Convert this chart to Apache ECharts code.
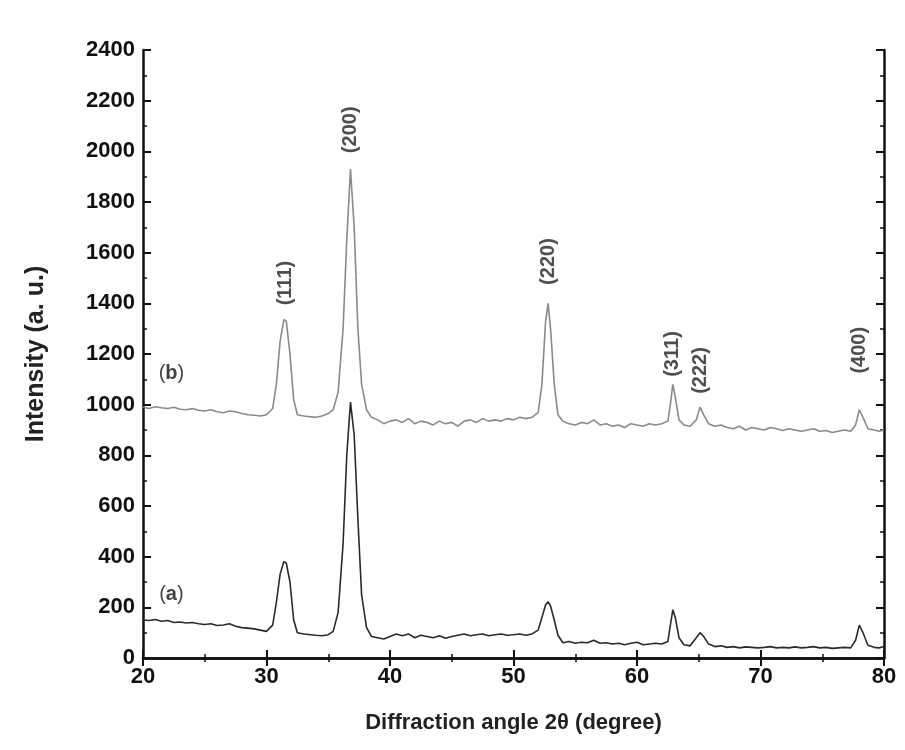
<!DOCTYPE html>
<html><head><meta charset="utf-8">
<script src="https://cdn.jsdelivr.net/npm/echarts@6/dist/echarts.min.js"></script>
<style>html,body{margin:0;background:#fff}#c{width:905px;height:750px}</style>
</head><body><div id="c"></div>
<script>
// pattern (b): [2theta, intensity]
var seriesB = [[20,990],[20.5,985],[21,992],[21.5,988],[22,985],[22.5,990],[23,982],[23.5,980],[24,985],[24.5,978],[25,975],[25.5,980],[26,972],[26.5,968],[27,975],[27.5,972],[28,965],[28.5,960],[29,958],[29.5,955],[30,960],[30.5,985],[30.8,1080],[31.1,1250],[31.4,1335],[31.6,1330],[31.9,1200],[32.2,1020],[32.5,960],[33,955],[34,950],[34.5,955],[35,965],[35.4,980],[35.8,1050],[36.2,1300],[36.5,1650],[36.8,1930],[37.1,1700],[37.4,1300],[37.7,1080],[38.1,980],[38.5,950],[39,940],[39.5,925],[40,935],[40.5,940],[41,930],[41.5,945],[42,925],[42.5,935],[43,930],[43.5,920],[44,935],[44.5,925],[45,930],[45.5,915],[46,935],[46.5,940],[47,930],[47.5,945],[48,935],[48.5,940],[49,935],[49.5,945],[50,940],[50.5,950],[51,945],[51.5,950],[52,970],[52.3,1080],[52.6,1330],[52.8,1400],[53,1300],[53.3,1080],[53.6,960],[54,935],[54.5,925],[55,920],[55.5,930],[56,925],[56.5,940],[57,920],[57.5,925],[58,915],[58.5,920],[59,910],[59.5,925],[60,920],[60.5,915],[61,925],[61.5,920],[62,925],[62.5,935],[62.7,1000],[62.9,1080],[63.1,1030],[63.4,940],[63.8,920],[64.3,915],[64.8,940],[65.1,990],[65.4,960],[65.8,925],[66.3,915],[66.8,920],[67.3,910],[67.8,905],[68.3,915],[68.8,900],[69.3,910],[69.8,905],[70.3,900],[70.8,910],[71.3,905],[71.8,898],[72.3,905],[72.8,900],[73.3,895],[73.8,900],[74.3,905],[74.8,895],[75.3,898],[75.8,890],[76.3,895],[76.8,900],[77.3,895],[77.7,920],[78,980],[78.3,950],[78.7,905],[79.2,900],[79.6,895],[80,900]];
// pattern (a)
var seriesA = [[20,150],[20.5,148],[21,152],[21.5,145],[22,148],[22.5,140],[23,142],[23.5,138],[24,140],[24.5,135],[25,132],[25.5,135],[26,128],[26.5,130],[27,135],[27.5,125],[28,120],[28.5,118],[29,115],[29.5,110],[30,105],[30.5,130],[30.8,220],[31.1,330],[31.4,380],[31.6,375],[31.9,300],[32.2,150],[32.5,100],[33,95],[34,90],[34.5,88],[35,92],[35.4,105],[35.8,180],[36.2,450],[36.5,800],[36.8,1010],[37.1,880],[37.4,550],[37.7,250],[38.1,120],[38.5,85],[39,80],[39.5,75],[40,85],[40.5,95],[41,88],[41.5,95],[42,80],[42.5,90],[43,85],[43.5,80],[44,88],[44.5,78],[45,85],[45.5,90],[46,95],[46.5,88],[47,92],[47.5,95],[48,88],[48.5,92],[49,95],[49.5,90],[50,92],[50.5,95],[51,90],[51.5,95],[52,110],[52.3,160],[52.6,210],[52.8,222],[53,205],[53.3,150],[53.6,90],[54,60],[54.5,65],[55,58],[55.5,62],[56,60],[56.5,70],[57,58],[57.5,60],[58,55],[58.5,58],[59,52],[59.5,58],[60,62],[60.5,52],[61,55],[61.5,58],[62,55],[62.5,65],[62.7,130],[62.9,190],[63.1,160],[63.4,80],[63.8,52],[64.3,48],[64.8,80],[65.1,100],[65.4,85],[65.8,55],[66.3,45],[66.8,48],[67.3,42],[67.8,45],[68.3,40],[68.8,44],[69.3,42],[69.8,40],[70.3,42],[70.8,45],[71.3,40],[71.8,42],[72.3,40],[72.8,44],[73.3,40],[73.8,42],[74.3,45],[74.8,40],[75.3,42],[75.8,38],[76.3,40],[76.8,42],[77.3,40],[77.7,70],[78,130],[78.3,100],[78.7,50],[79.2,42],[79.6,40],[80,45]];
// peak index labels: [x, y, text]
var peakLabels = [[31.5,1480,'(111)'],[36.8,2085,'(200)'],[52.8,1565,'(220)'],[62.9,1200,'(311)'],[65.1,1135,'(222)'],[78,1215,'(400)']];
var curveLabels = [[22.3,1125,'b'],[22.3,250,'a']];

var chart = echarts.init(document.getElementById('c'));
var font = 'Liberation Sans';
var axisCommon = {
    axisLine: {lineStyle: {color: '#111', width: 2.5}},
    axisTick: {inside: true, length: 8, lineStyle: {width: 2}},
    minorTick: {show: true, length: 4, splitNumber: 2, lineStyle: {color: '#111', width: 1.5}},
    splitLine: {show: false},
    axisLabel: {color: '#111', fontSize: 22, fontWeight: 'bold', fontFamily: font, formatter: function (v) { return String(v); }}
};
chart.setOption({
    animation: false,
    grid: {left: 143, right: 21, top: 50, bottom: 92},
    xAxis: [Object.assign({type: 'value', min: 20, max: 80, interval: 10,
        name: 'Diffraction angle 2θ (degree)', nameLocation: 'middle', nameGap: 54,
        nameTextStyle: {fontSize: 22, fontWeight: 'bold', fontFamily: font, color: '#222'}}, axisCommon),
        Object.assign({}, axisCommon, {type: 'value', min: 20, max: 80, interval: 10, position: 'top', axisLabel: {show: false}})],
    yAxis: [Object.assign({type: 'value', min: 0, max: 2400, interval: 200,
        name: 'Intensity (a. u.)', nameLocation: 'middle', nameGap: 94,
        nameTextStyle: {fontSize: 25, fontWeight: 'bold', fontFamily: font, color: '#222'}}, axisCommon),
        Object.assign({}, axisCommon, {type: 'value', min: 0, max: 2400, interval: 200, position: 'right', axisLabel: {show: false}})],
    series: [
        {type: 'line', data: seriesB, symbol: 'none', lineStyle: {color: '#8a8a8a', width: 1.6}},
        {type: 'line', data: seriesA, symbol: 'none', lineStyle: {color: '#2a2a2a', width: 1.6}},
        {type: 'scatter', symbolSize: 0, data: peakLabels.map(function (p) { return {value: [p[0], p[1]], name: p[2]}; }),
            label: {show: true, formatter: '{b}', rotate: 90, position: 'inside', color: '#222',
                fontSize: 20, fontWeight: 'bold', fontFamily: font}},
        {type: 'scatter', symbolSize: 0, data: curveLabels.map(function (p) { return {value: [p[0], p[1]], name: p[2]}; }),
            label: {show: true, formatter: '({x|{b}})', position: 'inside', color: '#111', fontSize: 20, fontFamily: font,
                rich: {x: {fontWeight: 'bold', fontSize: 20, fontFamily: font, color: '#111'}}}}
    ]
});
</script></body></html>
